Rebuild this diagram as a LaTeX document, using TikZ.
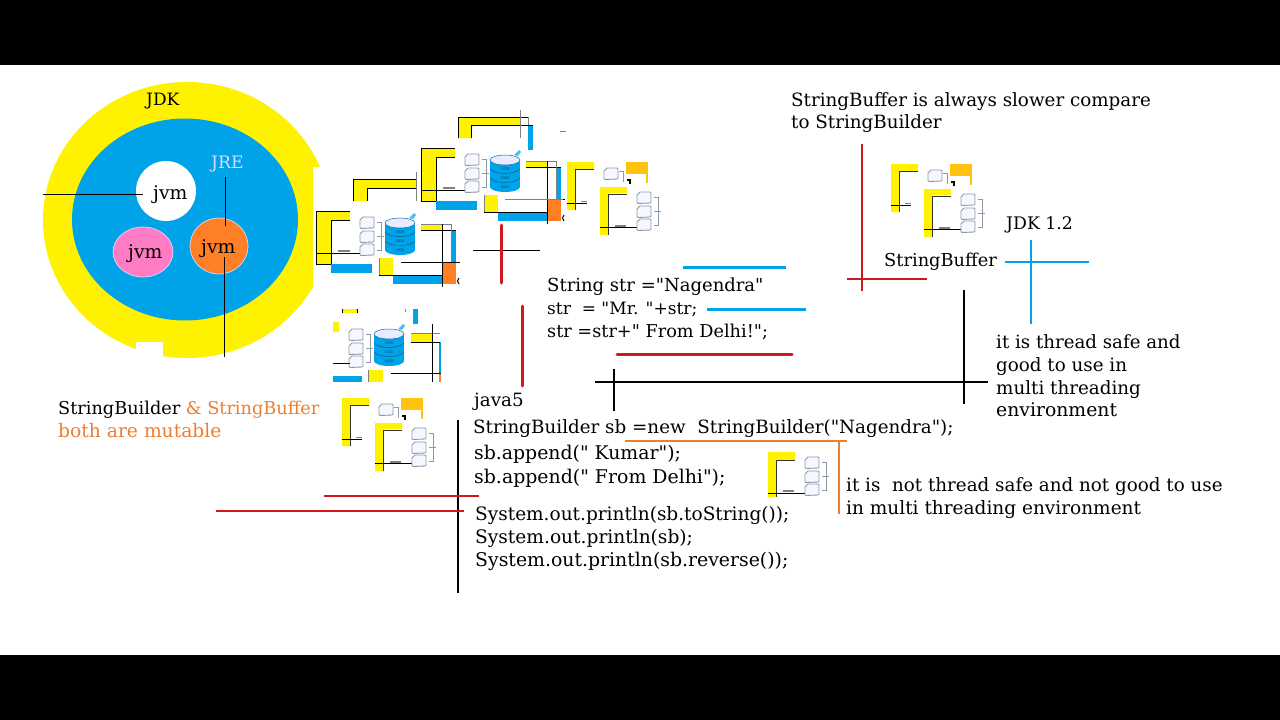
\documentclass[tikz,border=0pt]{standalone}
\usepackage{fontspec}
\setmainfont{DejaVu Serif}[Ligatures=TeXOff]
\definecolor{yel}{HTML}{FFF200}
\definecolor{blu}{HTML}{00A2E8}
\definecolor{org}{HTML}{FF7F27}
\definecolor{pnk}{HTML}{FF7BC4}
\definecolor{gld}{HTML}{FFC20E}
\definecolor{redl}{HTML}{D2161E}
\definecolor{orgt}{HTML}{ED7D31}
\definecolor{edge}{HTML}{8C9AA8}
\definecolor{glin}{HTML}{808080}
\tikzset{
  txt/.style={anchor=base west,inner sep=0pt,font=\fontsize{18.3}{21}\selectfont,text=black},
  fs/.style={font=\fontsize{#1}{21}\selectfont},
  thin line/.style={draw=black,line width=0.9pt},
  grey line/.style={draw=glin,line width=0.9pt},
  red bar/.style={draw=redl,line width=3pt,line cap=round},
  red line/.style={draw=redl,line width=1.6pt},
  blue bar/.style={draw=blu,line width=3pt},
  blue line/.style={draw=blu,line width=1.6pt},
  org line/.style={draw=orgt,line width=2pt},
  blk line/.style={draw=black,line width=1.6pt},
  dociconst/.style={draw=edge,line width=0.9pt,fill=blue!3!white},
  bandline/.style={draw=blu!60!black,line width=0.5pt}
}
% one document icon, top left at (#1,#2)
\newcommand{\docicon}[2]{%
  \path[dociconst] (#1+3,#2) -- (#1+13,#2) -- (#1+14,#2+1) -- (#1+14,#2+10) -- (#1+13,#2+11) -- (#1+1,#2+11.5) -- (#1,#2+10.5) -- (#1,#2+3) -- cycle;}
% three documents with a bracket
\newcommand{\docset}[2]{%
  \docicon{#1}{#2}\docicon{#1}{#2+14}\docicon{#1}{#2+27}%
  \draw[draw=edge,line width=0.8pt] (#1+17,#2+5) -- (#1+21,#2+5) -- (#1+21,#2+33) -- (#1+17,#2+33);
  \draw[draw=edge,line width=0.8pt] (#1+17,#2+19) -- (#1+24,#2+19);}
% database drum
\newcommand{\dbicon}[2]{%
  \fill[blu] (#1,#2+5) rectangle (#1+30,#2+32);
  \fill[blu] (#1+15,#2+32) circle[x radius=15,y radius=5];
  \foreach \k in {14,23}{\draw[bandline] (#1,#2+\k) .. controls (#1+5,#2+\k+6) and (#1+25,#2+\k+6) .. (#1+30,#2+\k);}
  \fill[white!92!blue,draw=blu!70!black,line width=0.5pt] (#1+15,#2+5) circle[x radius=15,y radius=5];
  \foreach \k in {14,23,32}{\node[inner sep=0pt,font=\fontsize{3.5}{4}\selectfont,text=blu!35!black] at (#1+15,#2+\k) {OCB};}
  \fill[blu!70!white] (#1+24,#2) -- (#1+29,#2-5) -- (#1+31,#2-3) -- (#1+28,#2+1) -- cycle;}
% yellow L with its inner line: outer corner at (#1,#2)
\newcommand{\yelbracket}[2]{%
  \fill[yel] (#1,#2) -- (#1+27,#2) -- (#1+27,#2+7) -- (#1+8,#2+7) -- (#1+8,#2+48) -- (#1,#2+48) -- cycle;
  \draw[draw=black!80,line width=0.9pt] (#1+27,#2+7) -- (#1+8,#2+7) -- (#1+8,#2+48);}
% small cluster of two yellow brackets, documents and gold tab
\newcommand{\smallcluster}[2]{%
  \begin{scope}[shift={(#1,#2)}]
    \yelbracket{567}{162}
    \draw[thin line] (567,203) -- (587,203);
    \draw[grey line,line width=1.4pt] (581,201.5) -- (587,201.5);
    \docicon{604}{168}
    \draw[draw=edge,line width=0.8pt] (619,171) -- (623,171) -- (623,183);
    \draw[draw=black,line width=1.4pt] (627,180) -- (630,180) -- (630,184);
    \fill[gld] (626,162) rectangle (648,174);
    \fill[gld] (646,174) rectangle (648,183);
    \fill[white] (600,182) rectangle (627,187);
    \fill[yel] (600,187) -- (627,187) -- (627,193) -- (608,193) -- (608,235) -- (600,235) -- cycle;
    \draw[draw=black!80,line width=0.9pt] (627,194) -- (608,194) -- (608,235);
    \draw[thin line] (600,227) -- (638,227);
    \draw[grey line,line width=1.4pt] (615,226) -- (626,226);
    \docset{637}{192}
  \end{scope}}
% large cluster with database: origin is the outer corner of the bracket
\newcommand{\bigcluster}[2]{%
  \begin{scope}[shift={(#1,#2)}]
    \fill[yel] (0,0) -- (34,0) -- (34,9) -- (15,9) -- (15,53) -- (0,53) -- cycle;
    \draw[thin line] (34,9) -- (15,9) -- (15,53) -- (0,53) -- (0,0) -- (34,0);
    \fill[blu] (15,53) rectangle (56,62);
    \draw[thin line] (0,42) -- (46,42);
    \draw[grey line,line width=1.4pt] (22,40) -- (34,40);
    \docset{44}{6}
    \dbicon{69}{7}
    \fill[yel] (105,13) rectangle (126,19);
    \fill[blu] (135,19) rectangle (140,51);
    \fill[org] (126,51) rectangle (140,73);
    \fill[yel] (63,47) rectangle (77,64);
    \fill[blu] (77,64) rectangle (126,73);
    \draw[thin line] (105,19) -- (140,19);
    \draw[grey line] (105,13) -- (135,13) -- (135,51);
    \draw[thin line] (126,13) -- (126,76);
    \draw[thin line] (85,51) -- (144,51);
    \draw[thin line] (63,64) -- (126,64);
    \draw[grey line] (63,47) -- (63,64);
    \draw[black,line width=1pt] (143,67) .. controls (141,69) and (141,71) .. (143,73);
  \end{scope}}
\begin{document}
\begin{tikzpicture}[x=1pt,y=-1pt]
\useasboundingbox (0,0) rectangle (1280,720);
\fill[white] (0,0) rectangle (1280,720);
\fill[black] (0,0) rectangle (1280,65);
\fill[black] (0,655) rectangle (1280,720);
% JDK disc
\begin{scope}
  \clip (43,70) rectangle (330,358);
  \fill[yel] (187,220) circle[x radius=144,y radius=138];
\end{scope}
\fill[white] (313,167) rectangle (335,287);
\fill[white] (136,342) rectangle (163,360);
\fill[white] (130,352) rectangle (163,362);
\fill[blu] (185,219.5) circle[x radius=113,y radius=101];
\fill[white] (166,191) circle[radius=30];
\fill[pnk,draw=white!85!blue,line width=0.7pt] (143,252) circle[x radius=30,y radius=25];
\fill[org,draw=white!85!blue,line width=0.7pt] (219,246) circle[x radius=29,y radius=28];
\node[txt,fs=17] (jdk) at (146,105) {JDK};
\node[txt,fs=17.2,text=white!85!blue] (jre) at (211,168) {JRE};
\node[txt,fs=18.8] (jvma) at (153,199) {jvm};
\node[txt,fs=18.8] (jvmb) at (128,258) {jvm};
\node[txt,fs=18.8] (jvmc) at (201,253) {jvm};
\draw[thin line] (43,194) -- (143,194);
\draw[thin line] (225,177) -- (225,226);
\draw[thin line] (224,257) -- (224,357);
% connectors between the large clusters
\fill[yel] (353,179) -- (416,179) -- (416,188) -- (367,188) -- (367,201) -- (353,201) -- cycle;
\draw[thin line] (416,188) -- (367,188) -- (367,201);
\draw[thin line] (353,201) -- (353,179) -- (416,179);
\draw[grey line] (416,172) -- (416,201);
\fill[yel] (458,117) -- (520,117) -- (520,125) -- (471,125) -- (471,138) -- (458,138) -- cycle;
\draw[thin line] (520,125) -- (471,125) -- (471,138);
\draw[thin line] (458,138) -- (458,117) -- (528,117);
\fill[blu] (528,125) rectangle (533,150);
\draw[thin line] (520,125) -- (533,125);
\draw[grey line] (528,117) -- (528,125);
\draw[grey line] (520,110) -- (520,138);
\draw[grey line] (560,131) -- (566,131);
\bigcluster{316}{211}
\bigcluster{421}{148}
\draw[grey line] (505,199) -- (563,199);
\draw[thin line] (473,250) -- (540,250);
\draw[red bar] (501,225) -- (501,283);
% lower cut-off cluster
\fill[yel] (342,309) rectangle (357,313);
\draw[thin line] (342,309) -- (342,313);
\draw[thin line] (357,309) -- (357,313);
\draw[grey line] (405,309) -- (405,312);
\fill[blu] (413,309) rectangle (418,324);
\draw[grey line] (413,309) -- (413,324);
\fill[yel] (333,322) rectangle (339,332);
\docset{349}{329}
\dbicon{374}{329}
\fill[blu] (333,376) rectangle (362,382);
\draw[thin line] (333,363) -- (350,363);
\fill[yel] (368,370) rectangle (383,382);
\draw[grey line] (368,370) -- (368,382);
\fill[yel] (411,333) rectangle (432,342);
\fill[blu] (439,342) rectangle (441,373);
\fill[org] (439,373) rectangle (441,382);
\draw[thin line] (411,342) -- (440,342);
\draw[grey line] (411,333) -- (440,333);
\draw[thin line] (432,324) -- (432,382);
\draw[thin line] (391,373) -- (441,373);
% small clusters
\smallcluster{0}{0}
\smallcluster{324}{2}
\smallcluster{-225}{236}
% single bracket with documents
\fill[yel] (768,452) -- (795,452) -- (795,460) -- (776,460) -- (776,497) -- (768,497) -- cycle;
\draw[draw=black!80,line width=0.9pt] (795,460) -- (776,460) -- (776,497);
\draw[thin line] (768,493) -- (806,493);
\draw[grey line,line width=1.4pt] (783,491) -- (794,491);
\docset{805}{457}
% red, blue, orange and black lines
\draw[red line] (862,144) -- (862,291);
\draw[red line] (847,279) -- (927,279);
\draw[blk line] (964,290) -- (964,404);
\draw[blk line] (595,382) -- (988,382);
\draw[blk line] (614,369) -- (614,411);
\draw[blue line] (1031,240) -- (1031,324);
\draw[blue line] (1005,262) -- (1089,262);
\draw[blue bar] (683,267) -- (786,267);
\draw[blue bar] (707,309) -- (806,309);
\draw[red bar] (617,354) -- (792,354);
\draw[red bar] (522,306) -- (522,386);
\draw[org line] (625,441) -- (847,441);
\draw[org line] (839,441) -- (839,514);
\draw[blk line] (458,420) -- (458,593);
\draw[red line] (324,496) -- (479,496);
\draw[red line] (216,511) -- (464,511);
% texts
\node[txt,fs=17.7] (sbsb) at (58,414) {StringBuilder \textcolor{orgt}{\& StringBuffer}};
\node[txt,fs=18.7,text=orgt] (mut) at (58,437) {both are mutable};
\node[txt] (slowa) at (791,106) {StringBuffer is always slower compare};
\node[txt] (slowb) at (791,128) {to StringBuilder};
\node[txt,fs=17.3] (jdkv) at (1006,229) {JDK 1.2};
\node[txt,fs=17.8] (sbuf) at (884,266) {StringBuffer};
\node[txt,fs=18] (stra) at (547,291) {String str ="Nagendra"};
\node[txt,fs=17.05] (strb) at (547,314) {str~~= "Mr. "+str;};
\node[txt,fs=17.7] (strc) at (547,337) {str =str+" From Delhi!";};
\node[txt] (jfive) at (474,406) {java5};
\node[txt] (bld) at (473,433) {StringBuilder sb =new~~StringBuilder("Nagendra");};
\node[txt,fs=18.85] (appa) at (474,459) {sb.append(" Kumar");};
\node[txt,fs=18.9] (appb) at (474,483) {sb.append(" From Delhi");};
\node[txt,fs=18.5] (pra) at (475,520) {System.out.println(sb.toString());};
\node[txt,fs=18.6] (prb) at (475,543) {System.out.println(sb);};
\node[txt,fs=18.85] (prc) at (475,566) {System.out.println(sb.reverse());};
\node[txt,fs=18.2] (safa) at (996,348) {it is thread safe and};
\node[txt] (safb) at (996,371) {good to use in};
\node[txt] (safc) at (996,394) {multi threading};
\node[txt,fs=18.8] (safd) at (996,416) {environment};
\node[txt] (nota) at (846,491) {it is~~not thread safe and not good to use};
\node[txt,fs=18.5] (notb) at (846,514) {in multi threading environment};
\end{tikzpicture}
\end{document}
